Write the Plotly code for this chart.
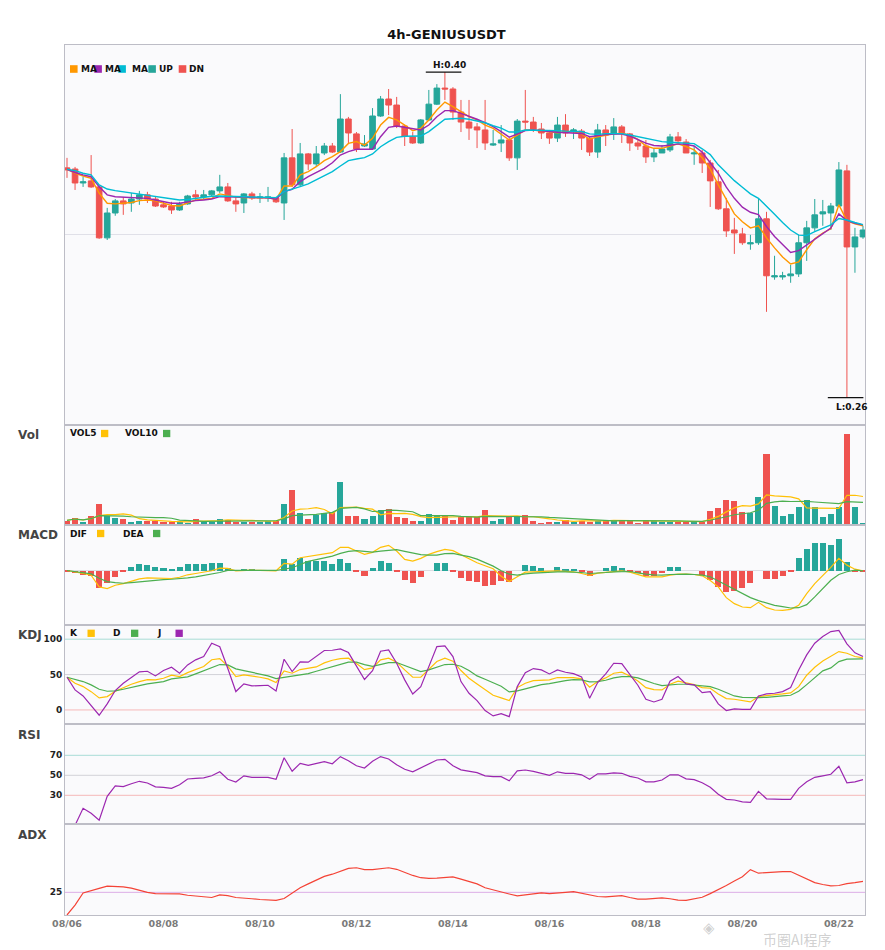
import pandas as pd
import plotly.graph_objects as go
from plotly.subplots import make_subplots

# ---------------- data ----------------
START = "2025-08-06 00:00"

OPEN = [0.3588, 0.3583, 0.3523, 0.3532, 0.3506, 0.3287, 0.3394, 0.3446, 0.3437, 0.3454,
        0.3472, 0.3454, 0.3429, 0.3424, 0.3407, 0.3433, 0.3472, 0.3463, 0.3472, 0.3489,
        0.3506, 0.3446, 0.3437, 0.3476, 0.3459, 0.3459, 0.3459, 0.3437, 0.3631, 0.3515,
        0.3648, 0.3605, 0.3652, 0.3682, 0.3656, 0.3798, 0.3734, 0.3682, 0.3669, 0.3811,
        0.3884, 0.3858, 0.3768, 0.3721, 0.3695, 0.3794, 0.3862, 0.3931, 0.3927, 0.3828,
        0.3785, 0.3764, 0.3751, 0.3686, 0.3695, 0.3708, 0.3631, 0.3789, 0.3785, 0.3755,
        0.3738, 0.3716, 0.3772, 0.3746, 0.3746, 0.3716, 0.3656, 0.3751, 0.3734, 0.3764,
        0.3734, 0.3695, 0.3682, 0.3635, 0.3652, 0.3665, 0.3721, 0.3699, 0.3648, 0.3652,
        0.3609, 0.3528, 0.3412, 0.3321, 0.3304, 0.3261, 0.3266, 0.3369, 0.3119, 0.3119,
        0.3124, 0.3132, 0.3266, 0.3330, 0.3390, 0.3394, 0.3424, 0.3575, 0.3248, 0.3291]
HIGH = [0.3631, 0.3592, 0.3549, 0.3643, 0.3510, 0.3416, 0.3454, 0.3463, 0.3480, 0.3489,
        0.3485, 0.3463, 0.3442, 0.3442, 0.3442, 0.3472, 0.3493, 0.3493, 0.3493, 0.3558,
        0.3523, 0.3463, 0.3480, 0.3485, 0.3480, 0.3506, 0.3463, 0.3652, 0.3755, 0.3695,
        0.3652, 0.3682, 0.3695, 0.3695, 0.3905, 0.3807, 0.3742, 0.3729, 0.3845, 0.3897,
        0.3927, 0.3893, 0.3772, 0.3742, 0.3798, 0.3923, 0.3948, 0.4000, 0.3935, 0.3880,
        0.3880, 0.3781, 0.3880, 0.3751, 0.3772, 0.3716, 0.3798, 0.3923, 0.3807, 0.3781,
        0.3751, 0.3807, 0.3819, 0.3759, 0.3755, 0.3721, 0.3777, 0.3772, 0.3802, 0.3772,
        0.3738, 0.3708, 0.3708, 0.3673, 0.3686, 0.3734, 0.3742, 0.3712, 0.3682, 0.3665,
        0.3622, 0.3579, 0.3459, 0.3373, 0.3330, 0.3300, 0.3454, 0.3399, 0.3210, 0.3141,
        0.3171, 0.3300, 0.3360, 0.3454, 0.3450, 0.3437, 0.3613, 0.3601, 0.3330, 0.3339]
LOW = [0.3545, 0.3493, 0.3506, 0.3502, 0.3283, 0.3278, 0.3382, 0.3386, 0.3399, 0.3429,
       0.3437, 0.3420, 0.3416, 0.3390, 0.3403, 0.3429, 0.3450, 0.3450, 0.3463, 0.3480,
       0.3442, 0.3399, 0.3394, 0.3450, 0.3437, 0.3442, 0.3437, 0.3364, 0.3506, 0.3506,
       0.3579, 0.3592, 0.3643, 0.3652, 0.3652, 0.3695, 0.3656, 0.3678, 0.3665, 0.3807,
       0.3815, 0.3759, 0.3682, 0.3691, 0.3691, 0.3789, 0.3858, 0.3880, 0.3794, 0.3742,
       0.3708, 0.3673, 0.3665, 0.3682, 0.3656, 0.3618, 0.3579, 0.3751, 0.3742, 0.3712,
       0.3691, 0.3699, 0.3721, 0.3712, 0.3665, 0.3639, 0.3631, 0.3682, 0.3708, 0.3695,
       0.3661, 0.3665, 0.3609, 0.3613, 0.3652, 0.3656, 0.3695, 0.3652, 0.3601, 0.3566,
       0.3420, 0.3407, 0.3291, 0.3218, 0.3257, 0.3236, 0.3257, 0.2969, 0.3107, 0.3107,
       0.3094, 0.3119, 0.3188, 0.3317, 0.3339, 0.3321, 0.3420, 0.2600, 0.3137, 0.3283]
CLOSE = [0.3579, 0.3523, 0.3528, 0.3506, 0.3287, 0.3394, 0.3446, 0.3433, 0.3454, 0.3472,
         0.3454, 0.3424, 0.3420, 0.3407, 0.3433, 0.3467, 0.3463, 0.3472, 0.3489, 0.3506,
         0.3446, 0.3433, 0.3476, 0.3459, 0.3463, 0.3463, 0.3442, 0.3631, 0.3515, 0.3648,
         0.3605, 0.3648, 0.3682, 0.3656, 0.3798, 0.3738, 0.3669, 0.3691, 0.3811, 0.3884,
         0.3858, 0.3768, 0.3725, 0.3695, 0.3794, 0.3862, 0.3931, 0.3927, 0.3828, 0.3785,
         0.3759, 0.3751, 0.3695, 0.3691, 0.3708, 0.3631, 0.3789, 0.3785, 0.3755, 0.3738,
         0.3716, 0.3772, 0.3738, 0.3751, 0.3716, 0.3656, 0.3751, 0.3729, 0.3764, 0.3738,
         0.3695, 0.3682, 0.3635, 0.3652, 0.3669, 0.3721, 0.3704, 0.3652, 0.3652, 0.3609,
         0.3532, 0.3412, 0.3317, 0.3308, 0.3266, 0.3266, 0.3369, 0.3124, 0.3124, 0.3124,
         0.3132, 0.3266, 0.3330, 0.3386, 0.3399, 0.3424, 0.3579, 0.3248, 0.3291, 0.3321]

MA5 = [0.3582, 0.3565, 0.3553, 0.3543, 0.3479, 0.3436, 0.3433, 0.3436, 0.3439, 0.3447,
       0.3450, 0.3446, 0.3436, 0.3426, 0.3424, 0.3436, 0.3450, 0.3453, 0.3457, 0.3476,
       0.3469, 0.3462, 0.3460, 0.3459, 0.3459, 0.3459, 0.3453, 0.3510, 0.3510, 0.3558,
       0.3572, 0.3593, 0.3619, 0.3636, 0.3658, 0.3693, 0.3701, 0.3686, 0.3715, 0.3772,
       0.3805, 0.3794, 0.3772, 0.3748, 0.3758, 0.3794, 0.3837, 0.3871, 0.3851, 0.3830,
       0.3808, 0.3794, 0.3772, 0.3758, 0.3734, 0.3708, 0.3729, 0.3751, 0.3751, 0.3748,
       0.3743, 0.3739, 0.3743, 0.3743, 0.3734, 0.3711, 0.3722, 0.3729, 0.3734, 0.3737,
       0.3729, 0.3711, 0.3682, 0.3672, 0.3672, 0.3682, 0.3691, 0.3679, 0.3665, 0.3631,
       0.3583, 0.3515, 0.3450, 0.3390, 0.3356, 0.3330, 0.3339, 0.3287, 0.3244, 0.3205,
       0.3175, 0.3184, 0.3236, 0.3283, 0.3308, 0.3326, 0.3429, 0.3360, 0.3347, 0.3339]
MA10 = [0.3582, 0.3568, 0.3558, 0.3550, 0.3507, 0.3472, 0.3464, 0.3462, 0.3459, 0.3457,
        0.3457, 0.3450, 0.3443, 0.3436, 0.3436, 0.3443, 0.3447, 0.3450, 0.3454, 0.3464,
        0.3464, 0.3462, 0.3462, 0.3460, 0.3460, 0.3459, 0.3453, 0.3486, 0.3496, 0.3529,
        0.3550, 0.3568, 0.3586, 0.3610, 0.3643, 0.3658, 0.3668, 0.3668, 0.3668, 0.3722,
        0.3762, 0.3768, 0.3762, 0.3758, 0.3751, 0.3772, 0.3808, 0.3834, 0.3834, 0.3822,
        0.3811, 0.3797, 0.3782, 0.3765, 0.3744, 0.3720, 0.3733, 0.3748, 0.3751, 0.3749,
        0.3744, 0.3741, 0.3739, 0.3738, 0.3736, 0.3722, 0.3728, 0.3731, 0.3733, 0.3733,
        0.3725, 0.3711, 0.3694, 0.3684, 0.3682, 0.3685, 0.3691, 0.3689, 0.3682, 0.3655,
        0.3612, 0.3565, 0.3505, 0.3457, 0.3419, 0.3397, 0.3387, 0.3336, 0.3293, 0.3257,
        0.3224, 0.3232, 0.3257, 0.3281, 0.3304, 0.3329, 0.3390, 0.3361, 0.3350, 0.3343]
MA20 = [0.3582, 0.3576, 0.3565, 0.3558, 0.3515, 0.3497, 0.3490, 0.3485, 0.3480, 0.3476,
        0.3472, 0.3467, 0.3462, 0.3456, 0.3450, 0.3452, 0.3457, 0.3463, 0.3466, 0.3467,
        0.3467, 0.3466, 0.3464, 0.3463, 0.3462, 0.3462, 0.3460, 0.3486, 0.3495, 0.3507,
        0.3519, 0.3536, 0.3553, 0.3572, 0.3596, 0.3619, 0.3626, 0.3632, 0.3648, 0.3679,
        0.3701, 0.3719, 0.3724, 0.3725, 0.3725, 0.3744, 0.3772, 0.3797, 0.3799, 0.3801,
        0.3797, 0.3789, 0.3782, 0.3769, 0.3759, 0.3742, 0.3742, 0.3751, 0.3751, 0.3749,
        0.3748, 0.3748, 0.3746, 0.3745, 0.3744, 0.3734, 0.3732, 0.3735, 0.3736, 0.3735,
        0.3729, 0.3722, 0.3712, 0.3705, 0.3701, 0.3698, 0.3696, 0.3695, 0.3692, 0.3670,
        0.3645, 0.3601, 0.3565, 0.3533, 0.3505, 0.3476, 0.3457, 0.3424, 0.3389, 0.3353,
        0.3321, 0.3299, 0.3297, 0.3314, 0.3329, 0.3343, 0.3370, 0.3364, 0.3353, 0.3344]

VOLUME = [4.3, 7.0, 3.3, 9.3, 21.3, 9.3, 7.3, 6.3, 3.3, 3.7,
          3.7, 3.7, 2.7, 3.0, 2.7, 2.0, 6.3, 3.0, 3.3, 6.3,
          5.3, 3.3, 3.3, 3.0, 3.3, 4.3, 4.3, 21.3, 35.3, 12.3,
          6.3, 9.7, 12.3, 13.3, 43.3, 9.3, 9.3, 6.3, 9.3, 15.3,
          16.3, 8.3, 7.3, 4.3, 4.3, 11.3, 9.3, 9.3, 5.3, 7.7,
          9.3, 7.7, 15.3, 4.3, 6.3, 9.3, 9.3, 10.3, 4.3, 2.3,
          3.3, 3.3, 5.3, 2.7, 4.3, 2.7, 4.3, 5.3, 5.3, 3.7,
          3.7, 2.3, 5.3, 4.3, 2.7, 2.7, 2.7, 2.7, 4.3, 2.7,
          14.3, 17.3, 25.3, 24.3, 13.3, 12.3, 28.3, 70.3, 19.3, 9.3,
          11.3, 18.3, 25.3, 18.3, 8.3, 11.3, 18.3, 90.3, 18.3, 2.3]
VOL5 = [4.3, 5.65, 4.87, 5.98, 9.04, 10.04, 10.1, 10.7, 9.5, 5.98,
        4.86, 4.14, 3.42, 3.36, 3.16, 2.82, 3.34, 3.4, 3.46, 4.18,
        4.84, 4.24, 4.3, 4.24, 3.64, 3.44, 3.64, 7.24, 13.7, 15.5,
        15.9, 16.98, 15.18, 10.78, 16.98, 17.58, 17.5, 16.3, 15.5, 9.9,
        11.3, 11.1, 11.3, 10.3, 8.1, 7.1, 7.3, 7.7, 7.9, 8.58,
        8.18, 7.86, 9.06, 8.86, 8.58, 8.58, 8.9, 7.9, 7.9, 7.1,
        5.9, 4.7, 3.7, 3.38, 3.78, 3.66, 3.86, 3.86, 4.38, 4.26,
        4.46, 4.06, 4.06, 3.86, 3.66, 3.46, 3.54, 3.02, 3.02, 3.02,
        5.34, 8.26, 12.78, 16.78, 18.9, 18.5, 20.7, 29.7, 28.7, 27.9,
        27.7, 25.7, 16.7, 16.5, 16.3, 16.3, 16.3, 29.3, 29.3, 28.1]
VOL10 = [4.3, 5.65, 4.87, 5.98, 9.04, 9.08, 8.83, 8.51, 7.93, 7.51,
         7.45, 7.12, 7.06, 6.43, 4.57, 3.84, 3.74, 3.41, 3.41, 3.67,
         3.83, 3.79, 3.85, 3.85, 3.91, 4.14, 3.94, 5.77, 8.97, 9.57,
         9.67, 10.31, 11.21, 12.24, 16.24, 16.74, 17.24, 15.74, 13.14, 13.44,
         14.44, 14.3, 13.8, 12.9, 9.0, 9.2, 9.2, 9.5, 9.1, 8.34,
         7.64, 7.58, 8.38, 8.38, 8.58, 8.38, 8.38, 8.48, 8.38, 7.84,
         7.24, 6.8, 5.8, 5.64, 5.44, 4.78, 4.28, 3.78, 3.88, 4.02,
         4.06, 3.96, 3.96, 4.12, 3.96, 3.96, 3.8, 3.54, 3.44, 3.34,
         4.4, 5.9, 7.9, 9.9, 10.96, 11.92, 14.48, 21.24, 22.74, 23.4,
         23.1, 23.2, 23.2, 22.6, 22.1, 22.0, 21.0, 23.0, 22.9, 22.2]

DIF = [0.0, -0.00013, -0.0003, -0.00047, -0.00163, -0.0018, -0.00147, -0.0013, -0.00103, -0.00083,
       -0.00073, -0.00073, -0.0008, -0.0008, -0.00067, -0.00043, -0.0003, -0.00017, -0.00003, 0.00023,
       0.0002, -0.00003, 0.00003, 0.00003, 0.0, -0.00003, -0.00003, 0.0007, 0.00063, 0.00127,
       0.0014, 0.00157, 0.0017, 0.00177, 0.0023, 0.0023, 0.00193, 0.0016, 0.0018, 0.0023,
       0.0025, 0.00193, 0.0011, 0.00093, 0.0012, 0.0016, 0.00187, 0.0021, 0.00197, 0.00157,
       0.0012, 0.00077, 0.00047, 0.00017, -0.00057, -0.0011, -0.00063, -0.00017, -0.00013, -0.00013,
       -0.00007, -0.00003, -0.00007, -0.00013, -0.0003, -0.0005, -0.00027, -0.0002, -0.00013, -0.00003,
       -0.00017, -0.00037, -0.00063, -0.00063, -0.00063, -0.00047, -0.00037, -0.00037, -0.0004, -0.00053,
       -0.001, -0.00163, -0.0027, -0.0033, -0.00363, -0.0037, -0.00317, -0.0037, -0.00393, -0.00397,
       -0.00387, -0.00347, -0.0023, -0.0013, -0.00053, 0.0003, 0.0012, 0.00053, 0.00013, -0.00003]
DEA = [0.0, -0.0001, -0.0002, -0.00033, -0.00077, -0.0011, -0.0012, -0.00127, -0.0012, -0.00113,
       -0.00103, -0.00093, -0.0009, -0.00087, -0.00083, -0.00073, -0.00063, -0.0005, -0.0004, -0.0002,
       0.0, 0.0, 0.0, 0.0, 0.0, 0.0, 0.0, 0.00013, 0.00027, 0.0006,
       0.0009, 0.00107, 0.00123, 0.00143, 0.0017, 0.0019, 0.00197, 0.00187, 0.00183, 0.00193,
       0.00203, 0.00207, 0.0019, 0.0017, 0.00157, 0.00153, 0.00153, 0.00167, 0.0017, 0.00153,
       0.00137, 0.00113, 0.00077, 0.00043, -0.00003, -0.00037, -0.00047, -0.00033, -0.00027, -0.0002,
       -0.00017, -0.00013, -0.00013, -0.00013, -0.0002, -0.0003, -0.00027, -0.0002, -0.00013, -0.0001,
       -0.0001, -0.00023, -0.00037, -0.00043, -0.00047, -0.0004, -0.00037, -0.00037, -0.0004, -0.00047,
       -0.00063, -0.00103, -0.00147, -0.00183, -0.0023, -0.0027, -0.003, -0.00327, -0.00347, -0.0036,
       -0.00373, -0.0037, -0.0034, -0.00263, -0.0018, -0.00097, -0.0004, -0.00013, 0.00003, -0.00003]
MACD_HIST = [-0.0001, -0.00023, -0.00037, -0.00047, -0.00173, -0.00123, -0.00057, -0.00007, 0.00033, 0.00063,
             0.00053, 0.00037, 0.00023, 0.00013, 0.00037, 0.00063, 0.00063, 0.00063, 0.00077, 0.00077,
             0.00023, 0.0, 0.0001, 0.0001, 0.0, 0.0, 0.0, 0.00113, 0.0007, 0.00127,
             0.00097, 0.00097, 0.00097, 0.00063, 0.00113, 0.00077, -0.00007, -0.00047, 0.00023, 0.00097,
             0.00077, -0.00017, -0.00087, -0.00123, -0.00063, 0.0, 0.00077, 0.00077, -0.00007, -0.00073,
             -0.00103, -0.00113, -0.00147, -0.00137, -0.00097, -0.00113, 0.0, 0.00053, 0.00043, 0.00023,
             0.0, 0.00033, 0.00013, 0.00013, -0.00013, -0.00047, 0.0, 0.00023, 0.00043, 0.00023,
             -0.00013, -0.00023, -0.00053, -0.00047, -0.00023, 0.00033, 0.00033, 0.0, 0.0, -0.00037,
             -0.0009, -0.00157, -0.00213, -0.00203, -0.00173, -0.00123, 0.0, -0.00083, -0.00083, -0.00053,
             -0.00007, 0.00123, 0.00213, 0.00273, 0.00273, 0.00253, 0.00313, 0.00083, -0.00003, -0.00007]

K = [46.2, 37.7, 33.0, 25.9, 17.0, 18.9, 26.4, 31.6, 36.3, 40.1,
     42.9, 42.5, 44.8, 49.1, 47.2, 52.8, 56.6, 61.3, 71.0, 72.6,
     62.0, 47.0, 49.5, 48.1, 46.2, 43.9, 38.7, 55.2, 51.9, 57.1,
     58.5, 60.8, 66.5, 70.3, 72.6, 73.1, 65.5, 57.0, 59.5, 70.8,
     73.1, 67.5, 56.6, 46.2, 46.2, 56.6, 68.4, 73.1, 68.9, 55.7,
     44.8, 36.8, 28.8, 20.8, 17.0, 13.2, 31.6, 37.7, 41.5, 42.5,
     42.5, 45.8, 45.3, 45.8, 43.9, 32.1, 40.1, 45.3, 51.9, 53.3,
     48.1, 41.0, 31.6, 28.8, 28.3, 36.3, 40.6, 37.7, 35.8, 31.6,
     30.7, 22.6, 16.0, 15.1, 13.7, 11.3, 18.9, 19.8, 20.8, 22.6,
     24.1, 33.0, 49.1, 60.4, 69.3, 76.4, 82.5, 80.2, 75.5, 73.6]
D = [46.2, 43.4, 40.1, 35.4, 29.2, 26.4, 26.9, 29.2, 32.1, 34.4,
     36.8, 38.7, 40.1, 43.9, 44.8, 46.7, 50.9, 55.2, 59.4, 64.2,
     63.7, 58.1, 55.7, 53.3, 50.5, 48.1, 44.3, 46.2, 47.2, 49.1,
     51.4, 54.7, 58.0, 61.3, 64.6, 67.5, 67.6, 64.0, 61.6, 64.2,
     67.0, 67.0, 62.7, 57.5, 54.2, 56.6, 60.4, 64.2, 64.6, 61.8,
     55.7, 48.1, 43.4, 38.2, 33.5, 25.5, 26.9, 29.7, 33.0, 35.8,
     37.3, 39.6, 41.5, 42.9, 42.5, 39.6, 40.1, 42.0, 45.3, 47.2,
     47.2, 45.3, 41.0, 37.3, 34.4, 35.4, 36.3, 36.3, 35.4, 34.4,
     33.0, 29.2, 24.1, 19.8, 17.9, 17.5, 17.5, 17.9, 18.4, 19.8,
     20.8, 26.4, 35.8, 45.3, 55.2, 59.4, 68.4, 71.7, 72.2, 72.2]
J = [46.2, 28.3, 19.8, 5.7, -7.5, 8.5, 27.4, 37.7, 46.2, 53.8,
     54.7, 48.1, 55.7, 60.4, 51.9, 63.7, 70.8, 75.5, 94.3, 89.4,
     58.6, 26.0, 36.8, 34.0, 34.4, 34.9, 26.9, 71.7, 54.2, 67.9,
     67.5, 75.9, 84.0, 84.4, 86.3, 81.1, 62.0, 43.0, 55.5, 83.0,
     84.9, 66.0, 42.5, 22.6, 33.0, 61.3, 89.6, 90.6, 75.5, 40.1,
     23.6, 13.2, -0.9, -8.5, -5.2, -9.4, 33.0, 52.8, 58.5, 56.6,
     50.9, 56.6, 53.3, 51.4, 46.7, 16.5, 38.7, 50.9, 66.0, 65.6,
     50.9, 34.9, 15.1, 11.3, 15.1, 40.6, 47.2, 36.8, 35.4, 24.5,
     25.9, 8.5, -0.9, 1.4, 0.9, 0.9, 19.8, 22.6, 23.6, 25.9,
     31.6, 56.6, 77.8, 94.3, 103.8, 110.8, 112.3, 93.4, 80.7, 75.5]

RSI = [0.0, 0.0, 17.0, 12.0, 5.0, 29.0, 39.5, 38.7, 41.5, 44.0,
       42.3, 38.5, 38.0, 37.0, 40.5, 46.3, 47.0, 47.5, 49.5, 53.5,
       46.0, 43.3, 49.5, 48.0, 48.0, 48.0, 46.0, 67.5, 54.0, 62.0,
       60.0, 61.5, 63.7, 61.5, 68.7, 64.5, 59.5, 57.3, 64.0, 68.7,
       66.3, 60.5, 56.0, 53.5, 57.5, 61.7, 65.3, 66.0, 59.5, 55.5,
       54.0, 52.7, 49.5, 48.7, 48.7, 44.5, 54.5, 55.3, 54.0, 52.0,
       50.0, 53.5, 52.0, 52.0, 50.5, 46.0, 51.5, 51.5, 52.5, 52.0,
       49.0, 47.3, 43.5, 43.5, 45.3, 50.5, 50.5, 46.5, 45.7, 42.5,
       38.0, 31.0, 26.0, 25.3, 23.5, 23.0, 34.0, 26.5, 26.0, 26.0,
       26.0, 37.0, 43.5, 48.0, 49.5, 51.0, 59.0, 42.5, 43.5, 45.7]

ADX = [0.0, 11.0, 24.3, 26.4, 29.3, 31.8, 31.8, 31.1, 29.6, 27.1,
       25.0, 23.6, 23.2, 23.2, 23.2, 21.8, 20.7, 20.0, 19.3, 22.1,
       21.4, 19.3, 18.2, 17.9, 17.1, 16.8, 16.1, 18.2, 24.6, 30.1,
       34.3, 38.6, 42.6, 45.0, 48.2, 51.4, 52.1, 50.0, 50.0, 50.7,
       52.1, 50.4, 46.8, 43.6, 41.1, 40.4, 40.7, 41.8, 42.1, 39.6,
       37.1, 34.3, 30.0, 27.5, 25.4, 23.2, 21.1, 22.1, 23.6, 24.3,
       23.6, 23.9, 25.0, 25.7, 23.9, 21.4, 20.4, 20.0, 20.7, 21.4,
       19.3, 17.5, 17.5, 17.9, 18.9, 17.9, 16.4, 16.1, 17.5, 19.6,
       23.6, 27.9, 32.5, 37.5, 42.1, 50.0, 46.1, 46.8, 47.5, 47.9,
       47.9, 43.9, 39.3, 35.7, 33.6, 32.1, 32.5, 34.6, 35.7, 37.1]

# ---------------- style ----------------
FONT = "DejaVu Sans"
UP_C = "#26A69A"
DN_C = "#EF5350"
ORANGE = "#FF9800"
PURPLE = "#9C27B0"
CYAN = "#00BCD4"
YELLOW = "#FFC107"
GREEN = "#4CAF50"
ADX_C = "#F44336"
BORDER = "#bdbdc6"

# the page adds an 8px body margin; the figure is sized so the plot area
# lands where the reference has it (x 65..865, y 45..915 in the window)
OFF = 8
W, H = 885 - OFF, 950 - OFF
ML, MR, MT, MB = 65 - OFF, 20, 45 - OFF, 35
PW, PH = W - ML - MR, H - MT - MB
PLOT_L, PLOT_B = 65, 915


def px_x(px):
    return (px - PLOT_L) / PW


def px_y(py):
    return (PLOT_B - py) / PH


heights = [379.7, 100, 100, 99.6, 100, 90.7]
tot = sum(heights)
fig = make_subplots(rows=6, cols=1, shared_xaxes=True, vertical_spacing=0,
                    row_heights=[h / tot for h in heights])

n = len(CLOSE)
dates = pd.date_range(START, periods=n, freq="4h")
hour = pd.Timedelta(hours=1)
bar_w = 3 * 3600 * 1000

# main candles
fig.add_trace(go.Candlestick(
    x=dates, open=OPEN, high=HIGH, low=LOW, close=CLOSE,
    increasing=dict(line=dict(color=UP_C, width=1), fillcolor=UP_C),
    decreasing=dict(line=dict(color=DN_C, width=1), fillcolor=DN_C),
    whiskerwidth=0, showlegend=False, hoverinfo="skip"), row=1, col=1)
for arr, col in [(MA5, ORANGE), (MA10, PURPLE), (MA20, CYAN)]:
    fig.add_trace(go.Scatter(x=dates, y=arr, mode="lines",
                             line=dict(color=col, width=1.4), showlegend=False), row=1, col=1)

# volume
vcol = [UP_C if c >= o else DN_C for o, c in zip(OPEN, CLOSE)]
fig.add_trace(go.Bar(x=dates, y=VOLUME, marker=dict(color=vcol, line=dict(width=0)),
                     width=bar_w, showlegend=False), row=2, col=1)
fig.add_trace(go.Scatter(x=dates, y=VOL5, mode="lines", line=dict(color=YELLOW, width=1.2),
                         showlegend=False), row=2, col=1)
fig.add_trace(go.Scatter(x=dates, y=VOL10, mode="lines", line=dict(color=GREEN, width=1.2),
                         showlegend=False), row=2, col=1)

# MACD
hcol = [UP_C if v >= 0 else DN_C for v in MACD_HIST]
fig.add_trace(go.Bar(x=dates, y=MACD_HIST, marker=dict(color=hcol, line=dict(width=0)),
                     width=bar_w, showlegend=False), row=3, col=1)
fig.add_trace(go.Scatter(x=dates, y=DIF, mode="lines", line=dict(color=YELLOW, width=1.2),
                         showlegend=False), row=3, col=1)
fig.add_trace(go.Scatter(x=dates, y=DEA, mode="lines", line=dict(color=GREEN, width=1.2),
                         showlegend=False), row=3, col=1)

# KDJ
for arr, col in [(K, YELLOW), (D, GREEN), (J, PURPLE)]:
    fig.add_trace(go.Scatter(x=dates, y=arr, mode="lines", line=dict(color=col, width=1.2),
                             showlegend=False), row=4, col=1)
# RSI
fig.add_trace(go.Scatter(x=dates, y=RSI, mode="lines", line=dict(color=PURPLE, width=1.2),
                         showlegend=False), row=5, col=1)
# ADX
fig.add_trace(go.Scatter(x=dates, y=ADX, mode="lines", line=dict(color=ADX_C, width=1.2),
                         showlegend=False), row=6, col=1)

# reference lines
TEAL_L, GRAY_L, PINK_L = "#a8dcd6", "#d2d2d8", "#f6b8b8"
for y, c in [(100, TEAL_L), (50, GRAY_L), (0, PINK_L)]:
    fig.add_hline(y=y, line=dict(color=c, width=1), layer="below", row=4, col=1)
for y, c in [(70, TEAL_L), (50, GRAY_L), (30, PINK_L)]:
    fig.add_hline(y=y, line=dict(color=c, width=1), layer="below", row=5, col=1)
fig.add_hline(y=25, line=dict(color="#dcaee6", width=1), layer="below", row=6, col=1)

# axes
xr = [dates[0] - hour, dates[-1] + hour]
fig.update_xaxes(range=xr, showgrid=False, zeroline=False, showline=True, mirror=True,
                 linecolor=BORDER, linewidth=1, ticks="", rangeslider_visible=False,
                 type="date")
fig.update_xaxes(tickformat="%m/%d", dtick=2 * 86400000, tick0=START[:10],
                 showticklabels=True,
                 tickfont=dict(family=FONT, size=9.5, color="#7a7a7a", weight="bold"),
                 row=6, col=1)
fig.update_yaxes(showline=True, mirror=True, linecolor=BORDER, linewidth=1, zeroline=False,
                 showgrid=False, ticks="", fixedrange=True,
                 tickfont=dict(family=FONT, size=9, color="#222222", weight="bold"))

hi, lo = max(HIGH), min(LOW)
pad = (hi - lo) * 0.083
fig.update_yaxes(range=[lo - pad, hi + pad], tickvals=[(hi + lo) / 2], showticklabels=False,
                 showgrid=True, gridcolor="#e0e0e8", row=1, col=1)
fig.update_yaxes(range=[0, max(VOLUME) * 1.103], showticklabels=False, row=2, col=1)
mlo = min(min(DIF), min(DEA), min(MACD_HIST))
mhi = max(max(DIF), max(DEA), max(MACD_HIST))
mpad = (mhi - mlo) * 0.2
fig.update_yaxes(range=[mlo - mpad, mhi + mpad], tickvals=[0], showticklabels=False,
                 showgrid=True, gridcolor="#dcdce2", row=3, col=1)
fig.update_yaxes(range=[-20.3, 120.5], tickvals=[0, 50, 100], row=4, col=1)
fig.update_yaxes(range=[1, 101], tickvals=[30, 50, 70], row=5, col=1)
fig.update_yaxes(range=[0, 100], tickvals=[25], row=6, col=1)

# high / low markers
ih = HIGH.index(hi)
il = LOW.index(lo)
for idx, val, lab, anchor, ys in [(ih, hi, f"H:{hi:.2f}", "bottom", 0),
                                  (il, lo, f"L:{lo:.2f}", "top", -2)]:
    t = dates[idx]
    fig.add_shape(type="line", x0=t - 9.5 * hour, x1=t + 8.2 * hour, y0=val, y1=val,
                  xref="x", yref="y", line=dict(color="#111111", width=1.3))
    fig.add_annotation(x=t + 2.5 * hour, y=val, xref="x", yref="y", text=f"<b>{lab}</b>",
                       showarrow=False, yanchor=anchor, yshift=ys,
                       font=dict(family=FONT, size=9, color="#111111"))


# legends (squares + labels)
def square(x_px, y_px, color, s=7.0):
    fig.add_shape(type="rect", xref="paper", yref="paper",
                  x0=px_x(x_px), x1=px_x(x_px + s),
                  y0=px_y(y_px + s / 2), y1=px_y(y_px - s / 2),
                  fillcolor=color, line=dict(width=0), layer="above")


def label(x_px, y_px, text, size=9, color="#111111", family=FONT):
    fig.add_annotation(xref="paper", yref="paper", x=px_x(x_px), y=px_y(y_px),
                       text=f"<b>{text}</b>", showarrow=False, xanchor="left",
                       yanchor="middle", font=dict(family=family, size=size, color=color),
                       borderpad=0)


legend_main = [(70.0, ORANGE, 81, "MA"), (94.3, PURPLE, 105, "MA"), (118.3, CYAN, 131.7, "MA"),
               (148.3, UP_C, 159.3, "UP"), (178.7, DN_C, 189.3, "DN")]
for sx, c, tx, tt in legend_main:
    label(tx - 1, 69, tt)
for sx, c, tx, tt in legend_main:
    square(sx, 69, c, 7.6)

for items, yy in [([("VOL5", 70, 101, YELLOW), ("VOL10", 125, 163, GREEN)], 433.5),
                  ([("DIF", 70, 97, YELLOW), ("DEA", 123, 153, GREEN)], 533.5),
                  ([("K", 70, 87.5, YELLOW), ("D", 113, 131, GREEN), ("J", 157, 175.5, PURPLE)], 633.3)]:
    for tt, tx, sx, c in items:
        label(tx - 1, yy, tt)
        square(sx, yy, c, 7.3)

# panel titles
for tt, yy in [("Vol", 434.7), ("MACD", 534.7), ("KDJ", 634.7), ("RSI", 734.7), ("ADX", 834.7)]:
    label(16.5, yy, tt, size=12, color="#444444")

# watermark (kept just below the date labels so it does not cover them)
WM = "rgba(150,150,150,0.45)"
fig.add_annotation(xref="paper", yref="paper", x=px_x(716), y=px_y(938), text="◈",
                   showarrow=False, font=dict(family=FONT, size=15, color=WM), borderpad=0)
fig.add_annotation(xref="paper", yref="paper", x=px_x(762), y=px_y(938.5), text="币圈AI程序",
                   showarrow=False, xanchor="left", yanchor="middle", borderpad=0,
                   font=dict(family="Noto Sans CJK SC", size=14, color=WM))

fig.update_layout(
    width=W, height=H,
    margin=dict(l=ML, r=MR, t=MT, b=MB),
    paper_bgcolor="white", plot_bgcolor="#fafafc",
    title=dict(text="<b>4h-GENIUSUSDT</b>", x=0.5, xref="container", xanchor="center",
               y=1 - (34 - OFF) / H, yref="container", yanchor="middle",
               font=dict(family=FONT, size=13, color="#111111")),
    font=dict(family=FONT),
    showlegend=False, bargap=0, boxgap=0.3, boxgroupgap=0,
    hovermode=False,
)

fig.write_html("out.html")
